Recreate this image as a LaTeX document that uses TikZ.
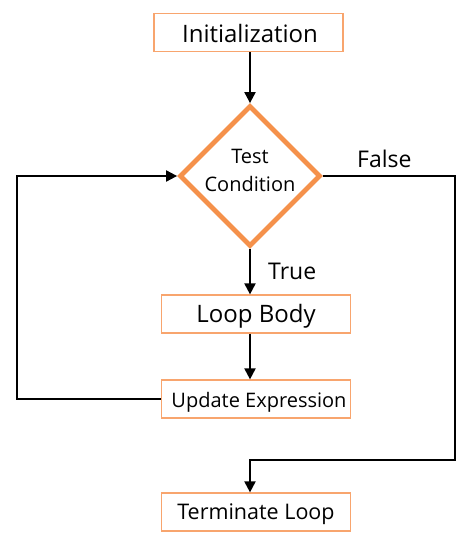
\documentclass[tikz,border=0pt]{standalone}
\usepackage{fontspec}
\setmainfont{Open Sans}
\usepackage{tikz}
\usetikzlibrary{shapes.geometric,arrows.meta,positioning,calc}

\definecolor{boxorange}{RGB}{248,165,110}
\definecolor{condorange}{RGB}{245,145,75}

\tikzset{
	stepbox/.style={draw=boxorange, line width=1.2pt, minimum width=189pt, minimum height=38pt, inner sep=0pt},
	condbox/.style={diamond, draw=condorange, line width=4.8pt, minimum width=141pt, minimum height=141pt, inner sep=0pt, align=center, font=\fontsize{20}{28}\selectfont},
	flow/.style={line width=2pt, -{Triangle[length=11pt,width=11pt]}},
	lbl/.style={font=\fontsize{23}{26}\selectfont, inner sep=0pt},
}
% move the text inside a box without changing its size
\newcommand{\shiftdown}[2]{\raisebox{-#1}[\height][\depth]{#2}}

\begin{document}
\begin{tikzpicture}[x=1pt,y=-1pt]
	\useasboundingbox (0,0) rectangle (474,540);

	\node[stepbox, font=\fontsize{24}{26}\selectfont] (init) at (248.5,32.5) {\hspace*{3pt}\shiftdown{1pt}{Initialization}};
	\node[condbox] (cond) at (250,176) {\makebox[60pt]{\shiftdown{-4pt}{\begin{tabular}{@{}c@{}}Test\\Condition\end{tabular}}}};
	\node[stepbox, font=\fontsize{24}{26}\selectfont] (body) at (256,314) {\shiftdown{2.3pt}{Loop Body}};
	\node[stepbox, font=\fontsize{20}{24}\selectfont] (update) at (256,399) {\hspace*{6pt}\shiftdown{3.6pt}{Update Expression}};
	\node[stepbox, font=\fontsize{21.5}{24}\selectfont] (term) at (256,512) {\shiftdown{2.4pt}{Terminate Loop}};

	\coordinate (backleft) at (17,0);
	\coordinate (falseright) at (455,0);
	\coordinate (falsedown) at (0,460);

	\draw[flow] (init.south -| cond.north) -- (cond.north);
	\draw[flow] (cond.south) -- (cond.south |- body.north);
	\draw[flow] (body.south -| cond.south) -- (update.north -| cond.south);
	\draw[flow] (update.west) -| (backleft |- cond.west) -- (cond.west);
	\draw[flow] (cond.east) -| (falseright |- falsedown) -| (term.north -| cond.south);
	\node[lbl, anchor=west] (truelbl) at (268,271) {True};
	\node[lbl, anchor=west] (falselbl) at (357,159) {False};
\end{tikzpicture}
\end{document}
